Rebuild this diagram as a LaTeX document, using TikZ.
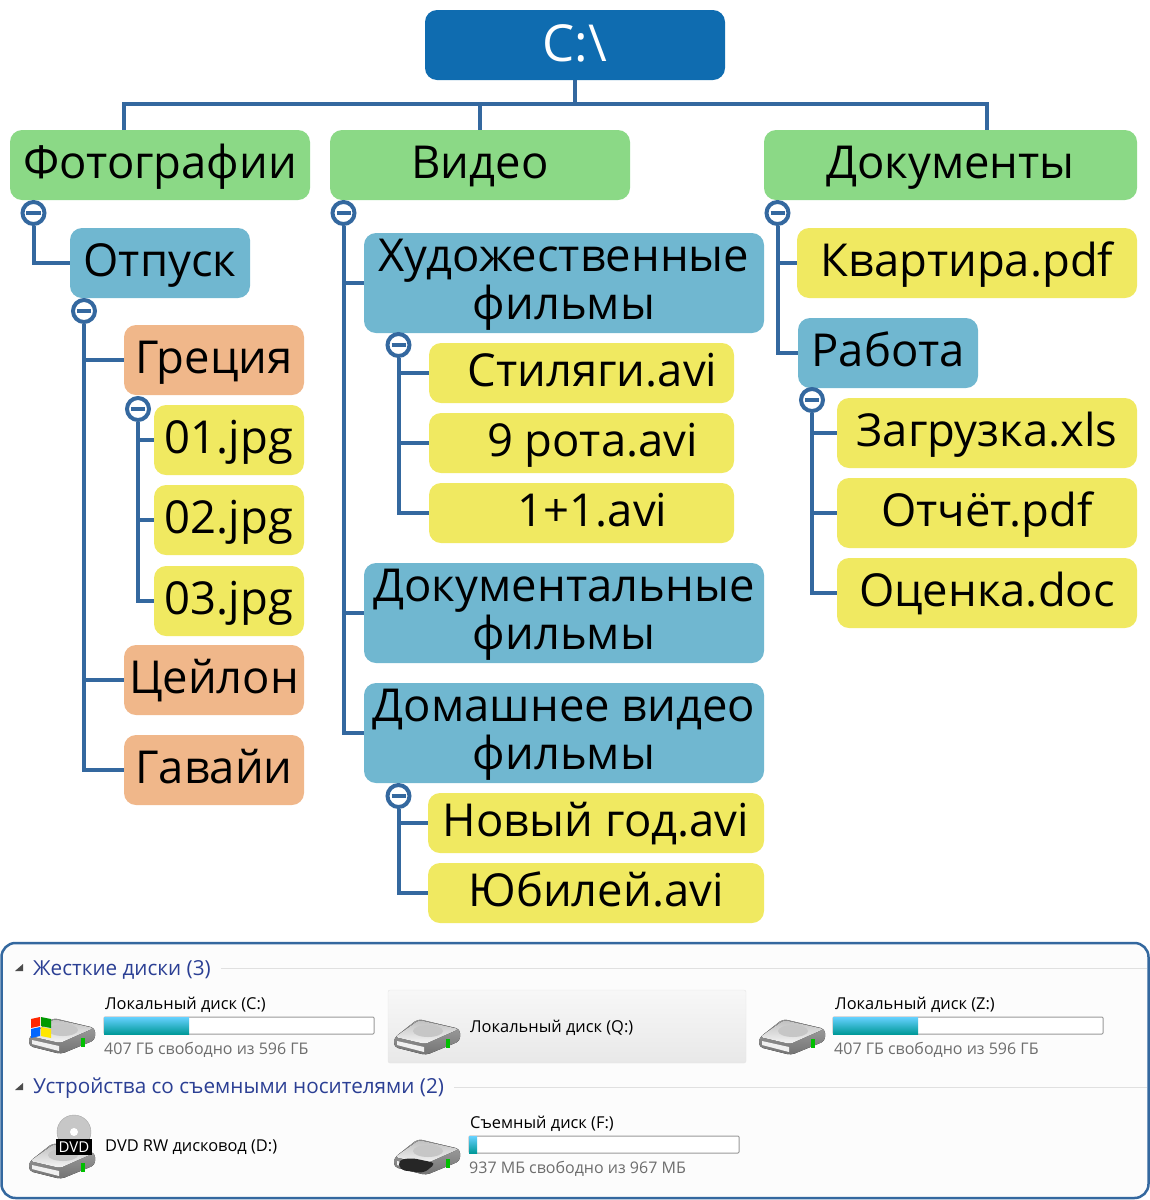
\documentclass[tikz,border=0pt]{standalone}
\usepackage{fontspec}
\setmainfont{Open Sans}
\usetikzlibrary{positioning}
\definecolor{linkblue}{HTML}{34689F}
\definecolor{rootfill}{HTML}{0F6CB0}
\definecolor{greenfill}{HTML}{8BD986}
\definecolor{bluefill}{HTML}{70B7D0}
\definecolor{orangefill}{HTML}{F0B78A}
\definecolor{yellowfill}{HTML}{F0E961}
\definecolor{headblue}{HTML}{2B3F94}
\definecolor{graytext}{HTML}{6D6D6D}
\tikzset{
  folderbox/.style = {rounded corners=12pt, inner sep=0pt, minimum height=70pt, align=center,
    text height=32pt, text depth=6pt, font=\fontsize{45.4}{48}\selectfont},
  rootbox/.style   = {folderbox, fill=rootfill, text=white, text depth=0pt, font=\fontsize{51}{48}\selectfont},
  greenbox/.style  = {folderbox, fill=greenfill},
  bluebox/.style   = {folderbox, fill=bluefill},
  twolinebox/.style = {bluebox, minimum width=400pt, minimum height=100pt, text height=80pt, text depth=8pt},
  orangebox/.style = {folderbox, fill=orangefill},
  yellowbox/.style = {folderbox, fill=yellowfill},
  toggle/.style    = {circle, draw=linkblue, line width=4pt, fill=white, inner sep=0pt, minimum size=22pt,
    node contents={\textcolor{linkblue}{\rule{14pt}{4pt}}}},
  link/.style      = {draw=linkblue, line width=4pt},
  header/.style    = {anchor=west, inner sep=0pt, text=headblue, font=\fontsize{20.7}{24}\selectfont},
  drivename/.style = {anchor=west, inner sep=0pt, font=\fontsize{16.4}{18}\selectfont},
  drivefree/.style = {anchor=west, inner sep=0pt, text=graytext, font=\fontsize{16}{18}\selectfont},
  hdd/.pic = {
    \fill[top color=gray!70, bottom color=black!55, rounded corners=4pt] (-33,1) -- (-9,-18) -- (33,-8) -- (33,4) -- (-1,18) -- (-33,10) -- cycle;
    \fill[top color=gray!50, bottom color=gray!8, rounded corners=3pt] (-32,0) -- (-8,-17) -- (32,-8) -- (-2,7) -- cycle;
    \fill[gray!45] (1,-6) ellipse (15pt and 6pt);
    \fill[gray!12] (-30,4) -- (-3,10) -- (-3,15) -- (-30,8) -- cycle;
    \fill[green!75!black] (19,2) rectangle (23,11);
  }
}
\begin{document}
\begin{tikzpicture}[x=1pt, y=-1pt]
  \useasboundingbox (0,0) rectangle (1150,1200);

  \node[rootbox, minimum width=300pt] (root) at (575,45) {C:\textbackslash};

  \node[greenbox, minimum width=300pt] (photo) at (160,165) {Фотографии};
  \node[greenbox, minimum width=300pt] (video) at (480,165) {Видео};
  \node[greenbox, minimum width=373pt] (docs) at (950.5,165) {Документы};

  \node[bluebox, minimum width=180pt] (vacation) at (160,263) {Отпуск};
  \node[orangebox, minimum width=180pt] (greece) at (214,360) {Греция};
  \node[yellowbox, minimum width=150pt] (jpgone) at (229,440) {01.jpg};
  \node[yellowbox, minimum width=150pt] (jpgtwo) at (229,520) {02.jpg};
  \node[yellowbox, minimum width=150pt] (jpgthree) at (229,601) {03.jpg};
  \node[orangebox, minimum width=180pt] (ceylon) at (214,680) {Цейлон};
  \node[orangebox, minimum width=180pt] (hawaii) at (214,770) {Гавайи};

  \node[twolinebox] (feature) at (564,283) {Художественные\\фильмы};
  \node[yellowbox, minimum width=305pt, minimum height=60pt] (stilyagi) at (581.5,373) {\hspace*{22pt}Стиляги.avi};
  \node[yellowbox, minimum width=305pt, minimum height=60pt] (rota) at (581.5,443) {\hspace*{22pt}9 рота.avi};
  \node[yellowbox, minimum width=305pt, minimum height=60pt] (oneone) at (581.5,513) {\hspace*{22pt}1+1.avi};
  \node[twolinebox] (documentary) at (564,613) {Документальные\\фильмы};
  \node[twolinebox] (home) at (564,733) {Домашнее видео\\фильмы};
  \node[yellowbox, minimum width=336pt, minimum height=60pt] (newyear) at (596,823) {Новый год.avi};
  \node[yellowbox, minimum width=336pt, minimum height=60pt] (jubilee) at (596,893) {Юбилей.avi};

  \node[yellowbox, minimum width=340pt] (flat) at (967,263) {Квартира.pdf};
  \node[bluebox, minimum width=180pt] (work) at (888,353) {Работа};
  \node[yellowbox, minimum width=300pt] (upload) at (987,433) {Загрузка.xls};
  \node[yellowbox, minimum width=300pt] (report) at (987,513) {Отчёт.pdf};
  \node[yellowbox, minimum width=300pt] (grade) at (987,593) {Оценка.doc};

  \coordinate (bus) at (575,104);
  \draw[link] (root.south) -- (bus);
  \draw[link] (bus) -| ([xshift=-36pt]photo.north);
  \draw[link] (bus) -| (video.north);
  \draw[link] (bus) -| ([xshift=36.5pt]docs.north);

  \node (togphoto) at (33.5,213) [toggle];
  \node (togvacation) at (84,311) [toggle];
  \node (toggreece) at (138,409) [toggle];
  \node (togvideo) at (343.5,213) [toggle];
  \node (togfeature) at (398.5,345) [toggle];
  \node (toghome) at (398.5,796) [toggle];
  \node (togdocs) at (777.5,213) [toggle];
  \node (togwork) at (812,400) [toggle];

  \draw[link] (togphoto) |- (vacation.west);
  \draw[link] (togvacation) |- (greece.west);
  \draw[link] (togvacation) |- (ceylon.west);
  \draw[link] (togvacation) |- (hawaii.west);
  \draw[link] (toggreece) |- (jpgone.west);
  \draw[link] (toggreece) |- (jpgtwo.west);
  \draw[link] (toggreece) |- (jpgthree.west);
  \draw[link] (togvideo) |- (feature.west);
  \draw[link] (togvideo) |- (documentary.west);
  \draw[link] (togvideo) |- (home.west);
  \draw[link] (togfeature) |- (stilyagi.west);
  \draw[link] (togfeature) |- (rota.west);
  \draw[link] (togfeature) |- (oneone.west);
  \draw[link] (toghome) |- (newyear.west);
  \draw[link] (toghome) |- (jubilee.west);
  \draw[link] (togdocs) |- (flat.west);
  \draw[link] (togdocs) |- (work.west);
  \draw[link] (togwork) |- (upload.west);
  \draw[link] (togwork) |- (report.west);
  \draw[link] (togwork) |- (grade.west);

  \draw[draw=linkblue, line width=2.5pt, fill=black!1, rounded corners=14pt] (1.5,943) rectangle (1148.5,1198);

  \fill[black!70] (15,971) -- (23,971) -- (23,964) -- cycle;
  \fill[black!70] (15,1090) -- (23,1090) -- (23,1083) -- cycle;
  \node[header] (hdrdisks) at (33,969.5) {Жесткие диски (3)};
  \node[header] (hdrremovable) at (33,1088.5) {Устройства со съемными носителями (2)};
  \draw[black!12, line width=1pt] ([shift={(10pt,1.5pt)}]hdrdisks.east) -- (1147,968);
  \draw[black!12, line width=1pt] ([shift={(10pt,1.5pt)}]hdrremovable.east) -- (1147,1087);

  \draw[black!10, top color=black!3, bottom color=black!9, rounded corners=2pt] (388,990) rectangle (746,1063);

  \foreach \barx/\fillx/\bary in {104/189/1017, 833/918/1017, 469/477/1136} {
    \draw[black!40, line width=1pt, fill=white, rounded corners=1pt] (\barx,\bary) rectangle ++(270,17);
    \fill[top color=cyan!70!blue!60, bottom color=cyan!60!black] (\barx,\bary) rectangle (\fillx,\bary+17);
  }

  \node[drivename] (namec) at (105,1005) {Локальный диск (C:)};
  \node[drivefree] (freec) at (104,1049.5) {407 ГБ свободно из 596 ГБ};
  \node[drivename] (nameq) at (470,1028) {Локальный диск (Q:)};
  \node[drivename] (namez) at (835,1005) {Локальный диск (Z:)};
  \node[drivefree] (freez) at (834,1049.5) {407 ГБ свободно из 596 ГБ};
  \node[drivename] (named) at (105,1147) {DVD RW дисковод (D:)};
  \node[drivename] (namef) at (470,1124) {Съемный диск (F:)};
  \node[drivefree] (freef) at (469,1168.5) {937 МБ свободно из 967 МБ};

  \pic at (62,1036) {hdd};
  \fill[red!70!orange] (31,1019) -- (40,1017) -- (40,1026) -- (31,1028) -- cycle;
  \fill[green!60!black] (41,1017) -- (51,1019) -- (51,1028) -- (41,1026) -- cycle;
  \fill[blue!60!cyan] (31,1029) -- (40,1027) -- (40,1036) -- (31,1038) -- cycle;
  \fill[yellow!90!orange] (41,1027) -- (51,1029) -- (51,1038) -- (41,1036) -- cycle;
  \pic at (427,1037) {hdd};
  \pic at (792,1037) {hdd};

  \pic at (62,1161) {hdd};
  \fill[black!22, draw=black!35] (74,1132) circle (17pt);
  \fill[white] (74,1132) circle (4pt);
  \node[fill=black, text=white, inner sep=0pt, minimum width=36pt, minimum height=16pt, font=\fontsize{15}{16}\selectfont] (dvdlabel) at (74,1147) {DVD};

  \pic at (427,1157) {hdd};
  \fill[black!85, rounded corners=5pt] (398,1160) -- (412,1158) -- (436,1163) -- (424,1173) -- (400,1170) -- cycle;
\end{tikzpicture}
\end{document}
